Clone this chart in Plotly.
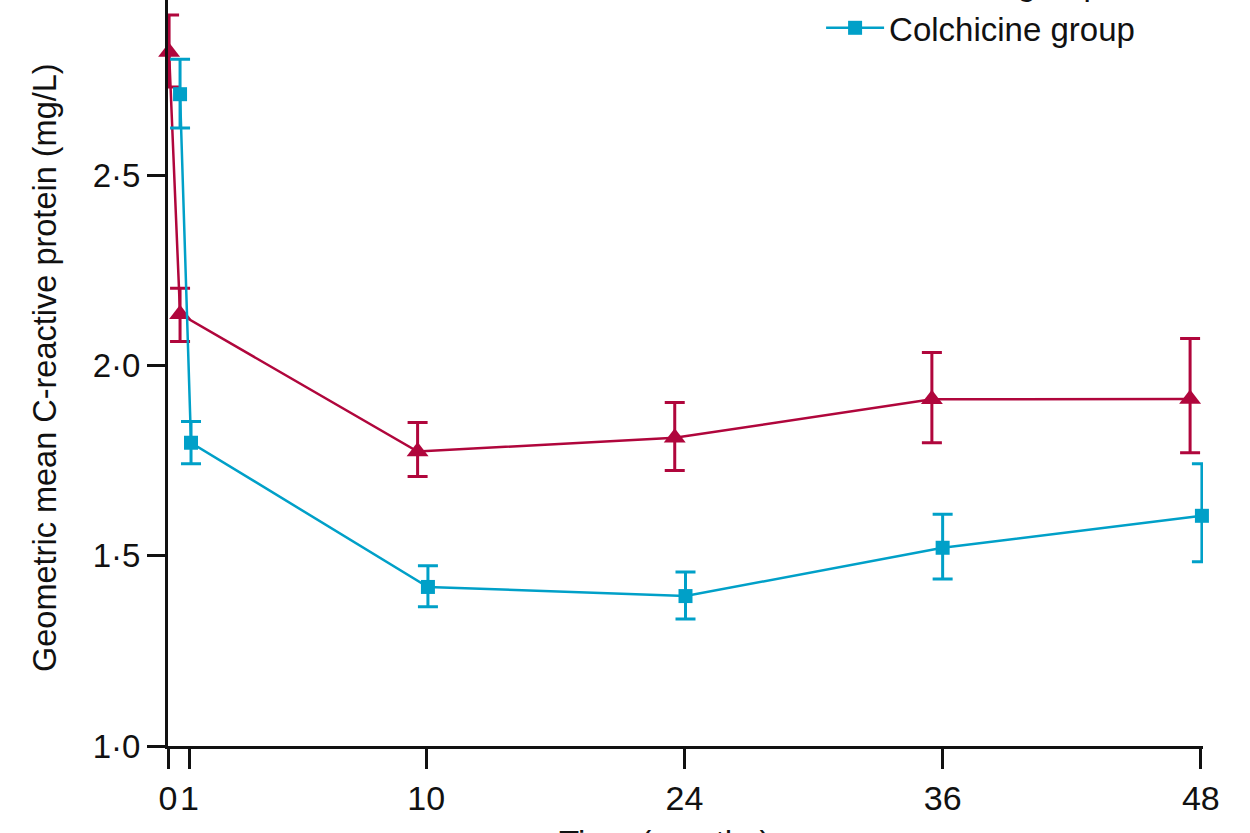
import plotly.graph_objects as go

# Data
tick_months = [0, 1, 12, 24, 36, 48]
tick_labels = ["0", "1", "10", "24", "36", "48"]

placebo_x = [0.05, 0.56, 11.6, 23.55, 35.5, 47.5]
placebo_mean = [2.824, 2.135, 1.774, 1.810, 1.911, 1.912]
placebo_hi = [2.921, 2.203, 1.850, 1.903, 2.034, 2.071]
placebo_lo = [2.732, 2.063, 1.708, 1.724, 1.797, 1.771]

colch_x = [0.56, 1.07, 12.08, 24.05, 36.0, 48.05]
colch_mean = [2.713, 1.797, 1.418, 1.394, 1.521, 1.605]
colch_hi = [2.805, 1.853, 1.474, 1.457, 1.609, 1.742]
colch_lo = [2.624, 1.742, 1.366, 1.334, 1.439, 1.484]

y_ticks = [1.0, 1.5, 2.0, 2.5, 3.0]
y_tick_labels = ["1·0", "1·5", "2·0", "2·5", "3·0"]

x_title = "Time (months)"
y_title = "Geometric mean C-reactive protein (mg/L)"

RED = "#B0063C"
BLUE = "#00A0C8"
FONT = "Liberation Sans, Arial, sans-serif"


def err(mean, hi, lo):
    return [h - m for h, m in zip(hi, mean)], [m - l for m, l in zip(mean, lo)]


fig = go.Figure()

for name, x, m, hi, lo, col, sym, size in [
    ("Placebo group", placebo_x, placebo_mean, placebo_hi, placebo_lo, RED, "triangle-up", 19),
    ("Colchicine group", colch_x, colch_mean, colch_hi, colch_lo, BLUE, "square", 14),
]:
    up, down = err(m, hi, lo)
    fig.add_trace(go.Scatter(
        x=x, y=m, name=name, mode="lines+markers",
        line=dict(color=col, width=2.5),
        marker=dict(symbol=sym, size=size, color=col, line=dict(width=0)),
        error_y=dict(type="data", symmetric=False, array=up, arrayminus=down,
                     color=col, thickness=3, width=10),
        cliponaxis=False,
    ))

fig.update_layout(
    width=1250, height=833,
    paper_bgcolor="white", plot_bgcolor="white",
    margin=dict(l=168, r=47, t=0, b=87, autoexpand=False),
    font=dict(family=FONT, size=33, color="#111111"),
    showlegend=True,
    legend=dict(x=0.631, y=0.925, xanchor="left", yanchor="bottom",
                bgcolor="rgba(0,0,0,0)", font=dict(size=33, family=FONT),
                itemwidth=58, tracegroupgap=0),
    xaxis=dict(range=[0, 48.1], tickmode="array", tickvals=tick_months, ticktext=tick_labels,
               showgrid=False, zeroline=False, showline=True, linecolor="#111111", linewidth=3,
               ticks="outside", ticklen=20, tickwidth=3, tickcolor="#111111",
               tickfont=dict(size=34, family=FONT)),
    yaxis=dict(range=[1.0, 1.0 + 746 / 380.5], tickmode="array", tickvals=y_ticks, ticktext=y_tick_labels,
               showgrid=False, zeroline=False, showline=True, linecolor="#111111", linewidth=3,
               ticks="outside", ticklen=18, tickwidth=3, tickcolor="#111111",
               tickfont=dict(size=33, family=FONT)),
    annotations=[
        dict(text=x_title, xref="paper", yref="paper", x=0.48, y=-(822 - 746) / 746,
             xanchor="center", yanchor="top", showarrow=False, font=dict(size=33, family=FONT)),
        dict(text=y_title, xref="paper", yref="paper", x=(45 - 168) / 1035, y=(746 - 368) / 746,
             xanchor="center", yanchor="middle", textangle=-90, showarrow=False,
             font=dict(size=32.5, family=FONT)),
    ],
)

fig.write_html("out.html", config={"displayModeBar": False},
               post_script="document.body.style.margin='0px';")
